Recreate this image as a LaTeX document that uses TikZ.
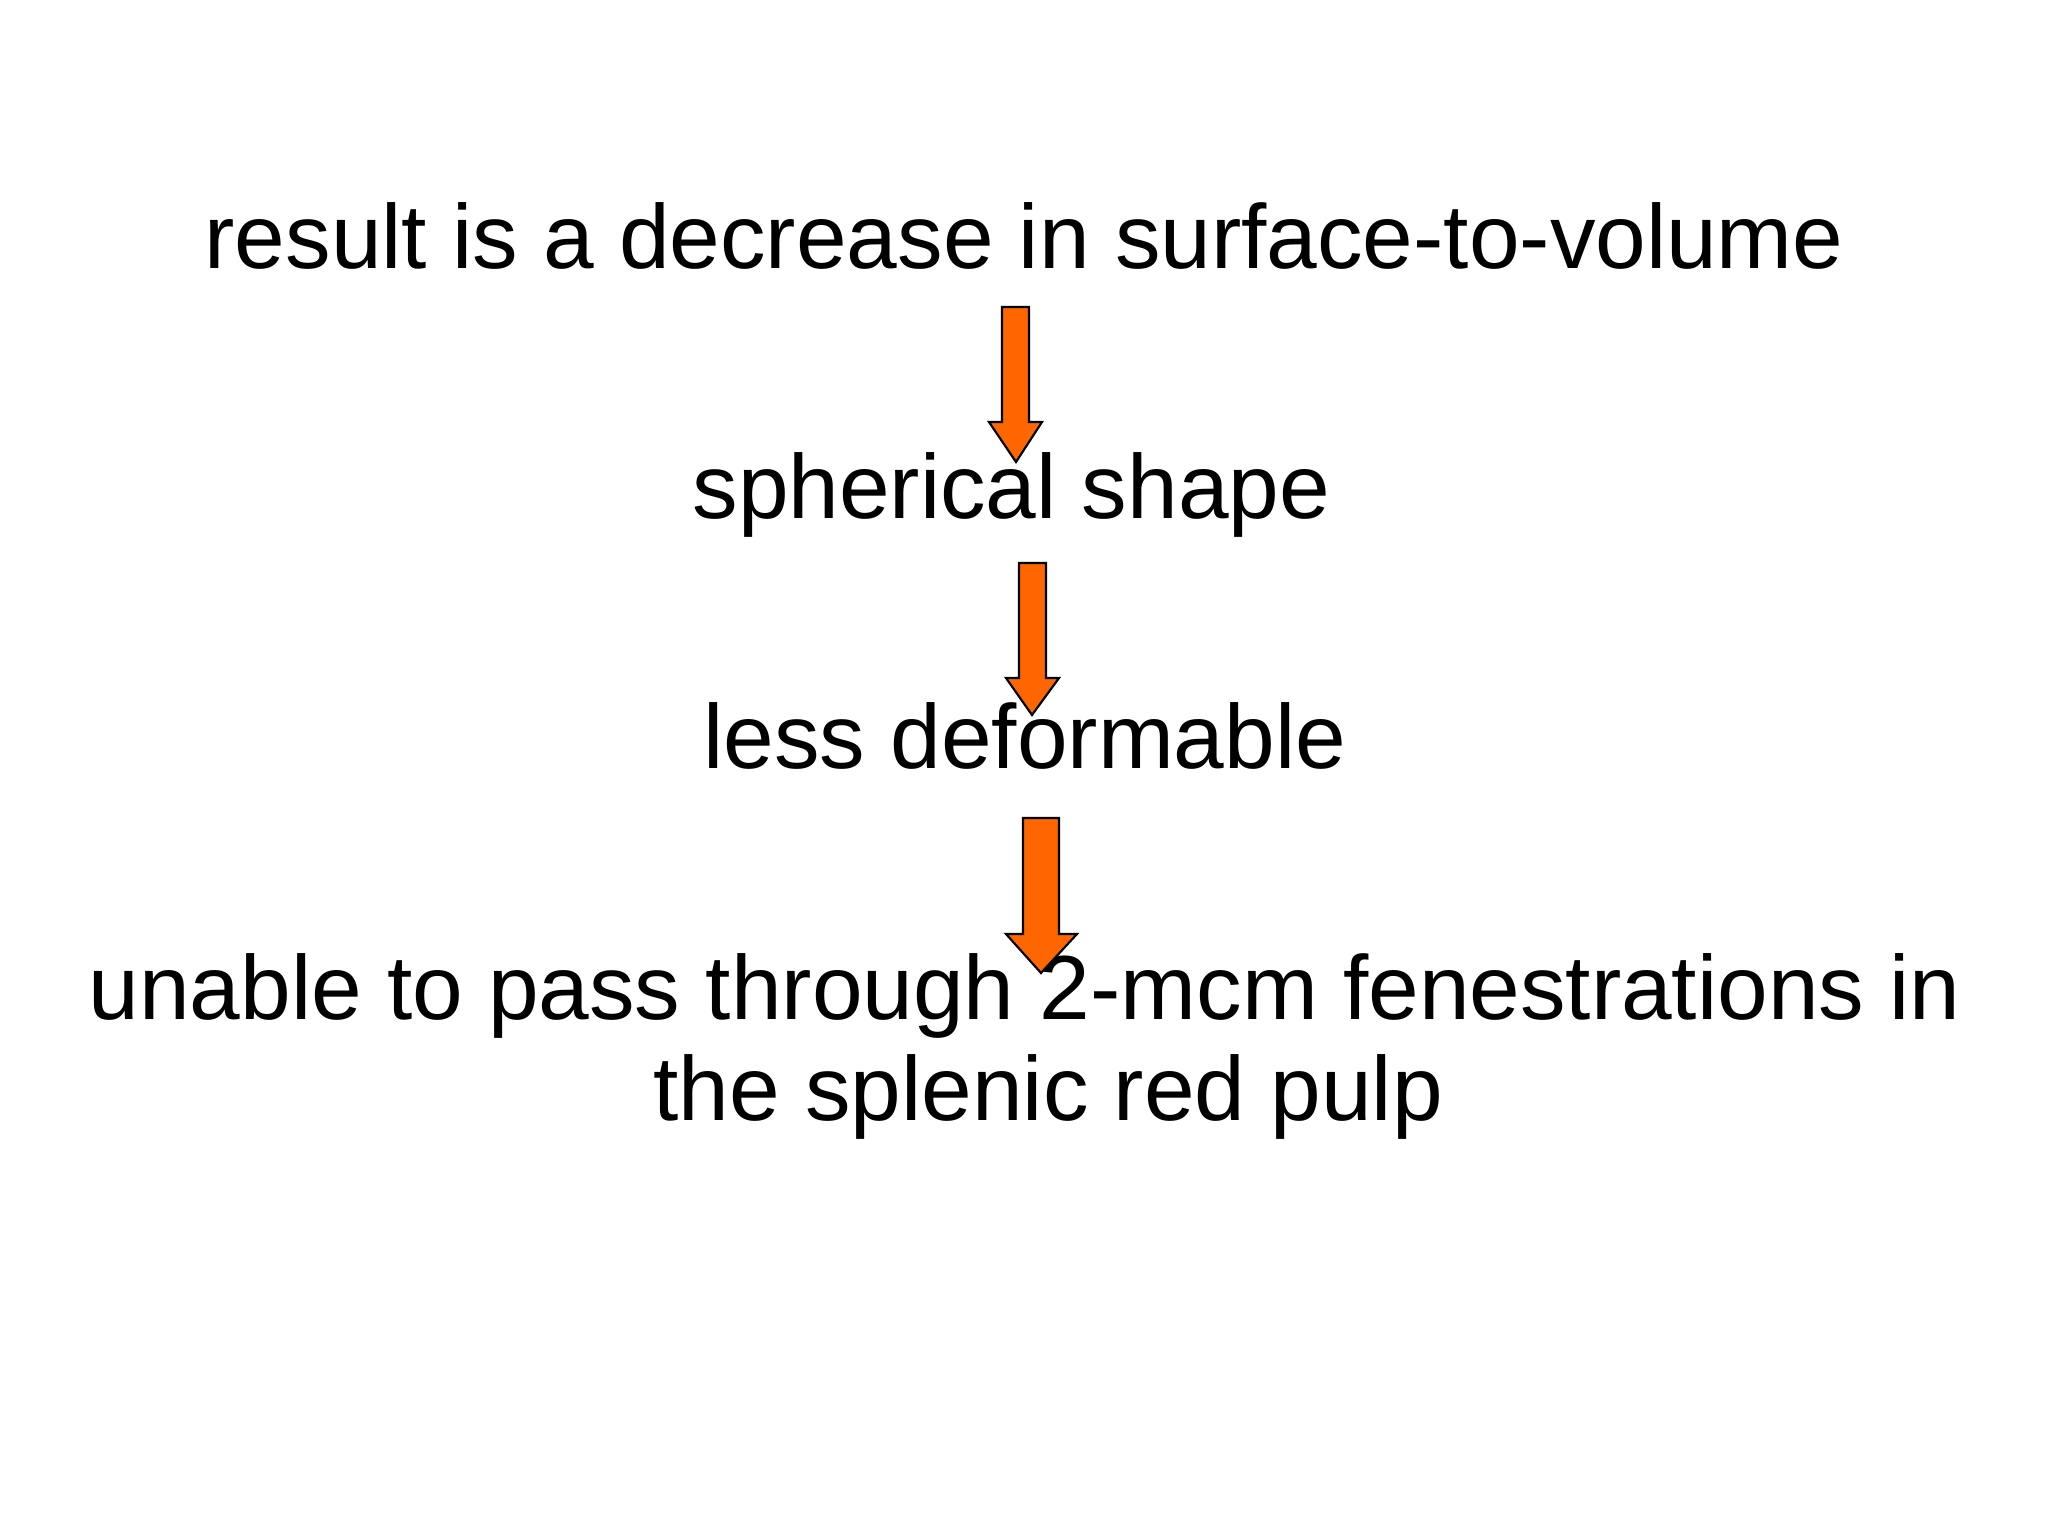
\documentclass[tikz,border=0pt]{standalone}
\usepackage{fontspec}
\setmainfont{Liberation Sans}
\definecolor{arroworange}{HTML}{FF6600}
\tikzset{
  slidetext/.style={anchor=base west, inner sep=0pt, font=\fontsize{32}{35.5}\selectfont, text=black},
  blockarrow/.style={draw=black, line width=0.75pt, fill=arroworange, line join=miter}
}
\begin{document}
\begin{tikzpicture}[x=0.3515625pt, y=-0.3515625pt]
\useasboundingbox[fill=white] (0,0) rectangle (2048,1536);
\node[slidetext] (t1) at (204,269) {result is a decrease in surface-to-volume};
\node[slidetext] (t2) at (692,519) {spherical shape};
\node[slidetext] (t3) at (703,768) {less deformable};
\node[slidetext] (t4) at (88,1019) {unable to pass through 2-mcm fenestrations in};
\node[slidetext] (t5) at (653,1120) {the splenic red pulp};
% block arrows
\draw[blockarrow] (1002,307) -- (1029,307) -- (1029,422) -- (1042,422) -- (1016,462) -- (989,422) -- (1002,422) -- cycle;
\draw[blockarrow] (1019,563) -- (1046,563) -- (1046,678) -- (1059,678) -- (1032,715) -- (1006,678) -- (1019,678) -- cycle;
\draw[blockarrow] (1023,818) -- (1059,818) -- (1059,934) -- (1077,934) -- (1041,973) -- (1006,934) -- (1023,934) -- cycle;
\end{tikzpicture}
\end{document}
